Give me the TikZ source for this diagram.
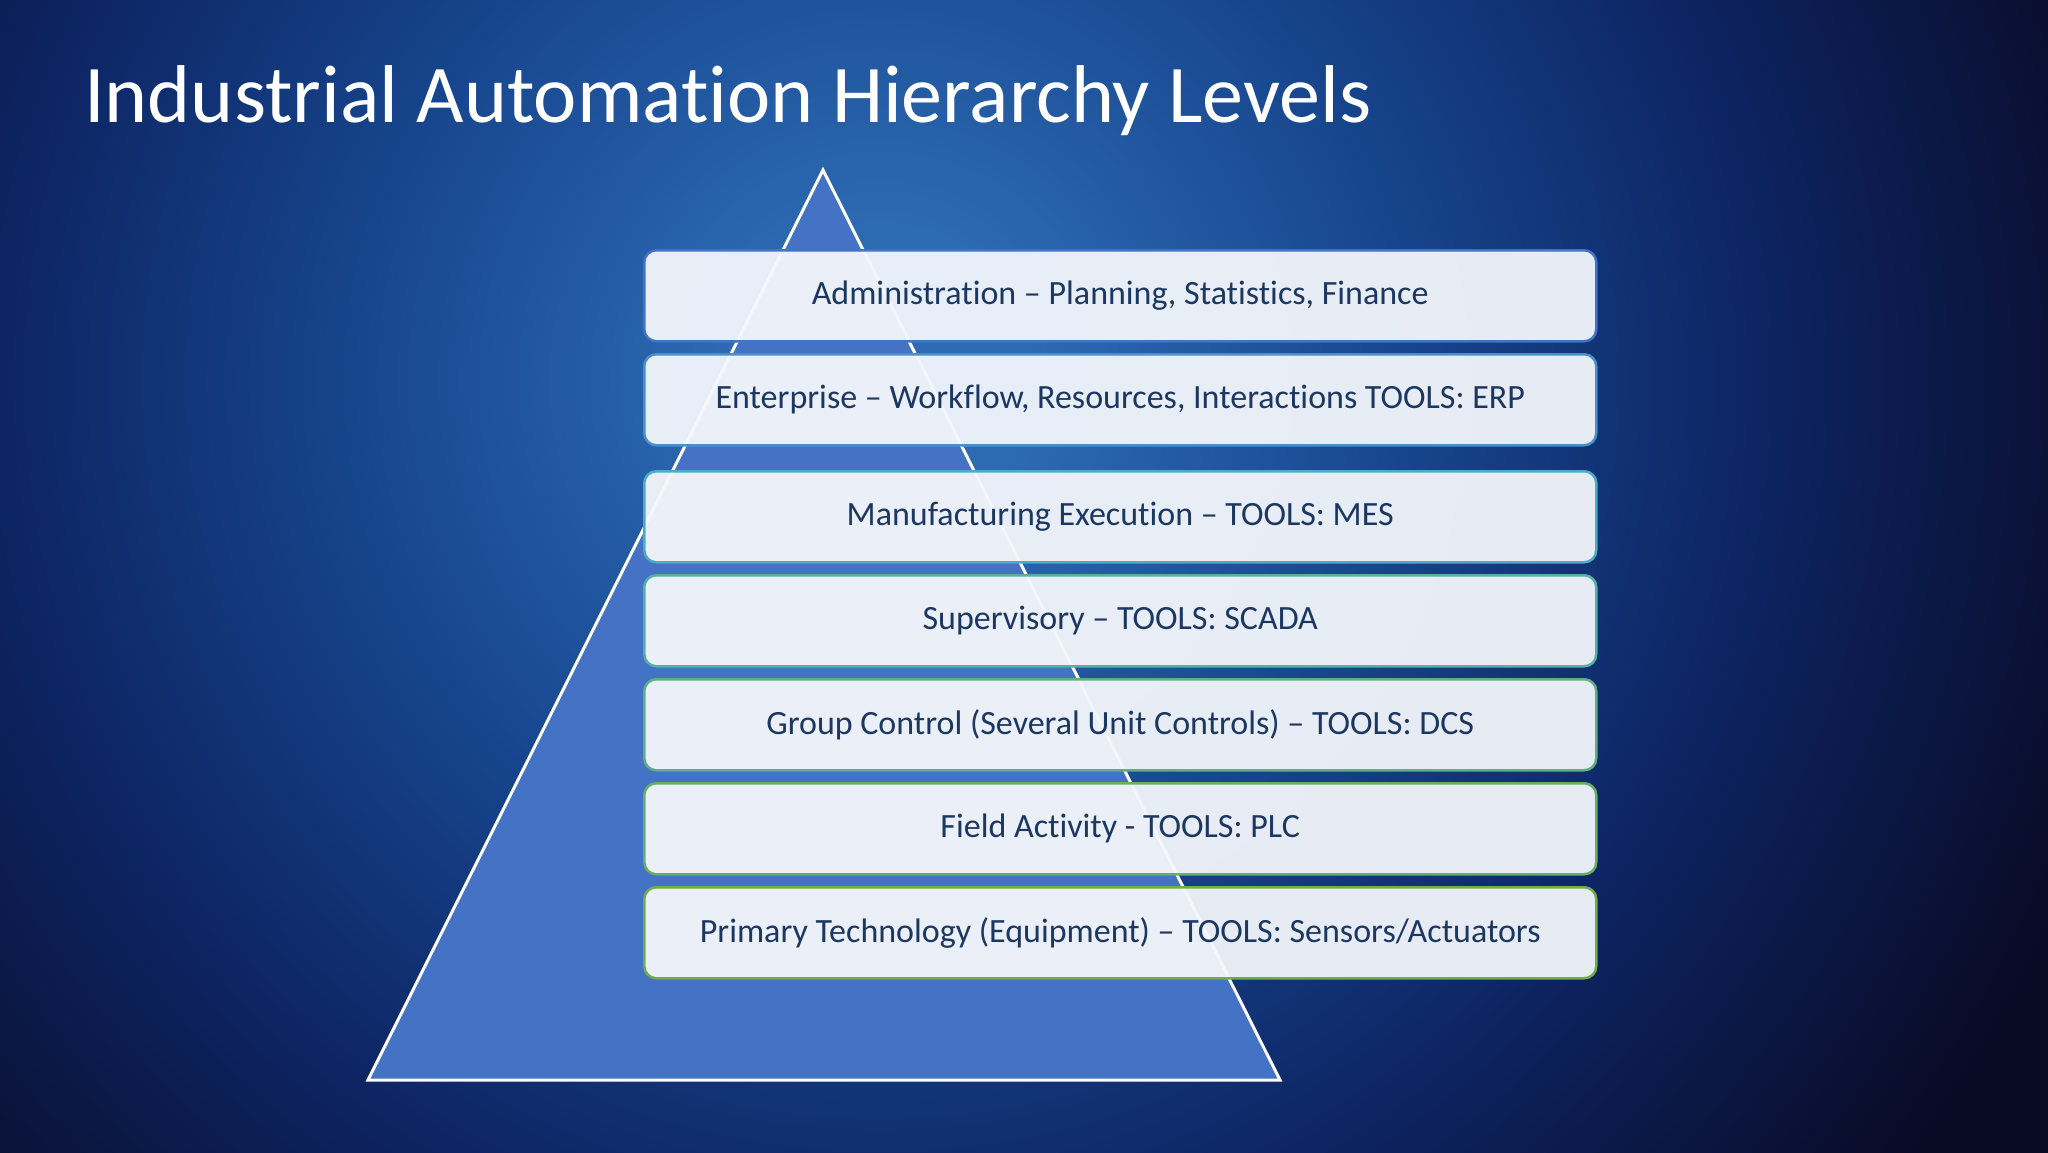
\documentclass[tikz,border=0pt]{standalone}
\usepackage{fontspec}
\setmainfont{Carlito}[Ligatures=NoCommon]
\usetikzlibrary{shadings}
\definecolor{bgc}{HTML}{2C6AB2}
\definecolor{bgm}{HTML}{17468E}
\definecolor{bgo}{HTML}{0D2462}
\definecolor{bgd}{HTML}{090A24}
\definecolor{tri}{HTML}{4472C4}
\definecolor{boxfill}{HTML}{F3F6FB}
\definecolor{txt}{HTML}{1C3760}
\definecolor{bA}{HTML}{4472C4}
\definecolor{bB}{HTML}{4A90C6}
\definecolor{bC}{HTML}{4BACC6}
\definecolor{bD}{HTML}{55B0A8}
\definecolor{bE}{HTML}{5FAF86}
\definecolor{bF}{HTML}{69AE62}
\definecolor{bG}{HTML}{70AD47}
\pgfdeclareradialshading{bgshade}{\pgfpoint{0bp}{0bp}}{color(0bp)=(bgc); color(2.4bp)=(bgc); color(8.1bp)=(bgm); color(13.8bp)=(bgo); color(20.3bp)=(bgd); color(50bp)=(bgd)}
\tikzset{
  levelbox/.style={draw=#1, line width=2.5pt, fill=boxfill, fill opacity=0.95, text opacity=1,
    rounded corners=12pt, minimum width=952pt, minimum height=91pt, inner sep=0pt,
    text=txt, font=\fontsize{34}{40}\selectfont, anchor=north west},
  titletext/.style={text=white, font=\fontsize{82}{100}\selectfont, inner sep=0pt, anchor=base west}
}
\begin{document}
\begin{tikzpicture}[x=1pt,y=-1pt]
\useasboundingbox (0,0) rectangle (2048,1152);
\begin{scope}
\clip (0,0) rectangle (2048,1152);
\fill[bgd] (0,0) rectangle (2048,1152);
\shade[shading=bgshade] (880,380) circle[radius=1600pt];
\end{scope}
\node[titletext] (title) at (84,122) {Industrial Automation Hierarchy Levels};
\coordinate (apex) at (823,170);
\coordinate (bl) at (368,1080);
\coordinate (br) at (1280,1080);
\draw[white, line width=3pt, fill=tri, line join=miter] (apex) -- (br) -- (bl) -- cycle;
\node[levelbox=bA] (l1) at (643,249) {Administration – Planning, Statistics, Finance};
\node[levelbox=bB] (l2) at (643,353) {Enterprise – Workflow, Resources, Interactions TOOLS: ERP};
\node[levelbox=bC] (l3) at (643,470) {Manufacturing Execution – TOOLS: MES};
\node[levelbox=bD] (l4) at (643,574) {Supervisory – TOOLS: SCADA};
\node[levelbox=bE] (l5) at (643,678) {Group Control (Several Unit Controls) – TOOLS: DCS};
\node[levelbox=bF] (l6) at (643,782) {Field Activity - TOOLS: PLC};
\node[levelbox=bG] (l7) at (643,886) {Primary Technology (Equipment) – TOOLS: Sensors/Actuators};
\end{tikzpicture}
\end{document}
